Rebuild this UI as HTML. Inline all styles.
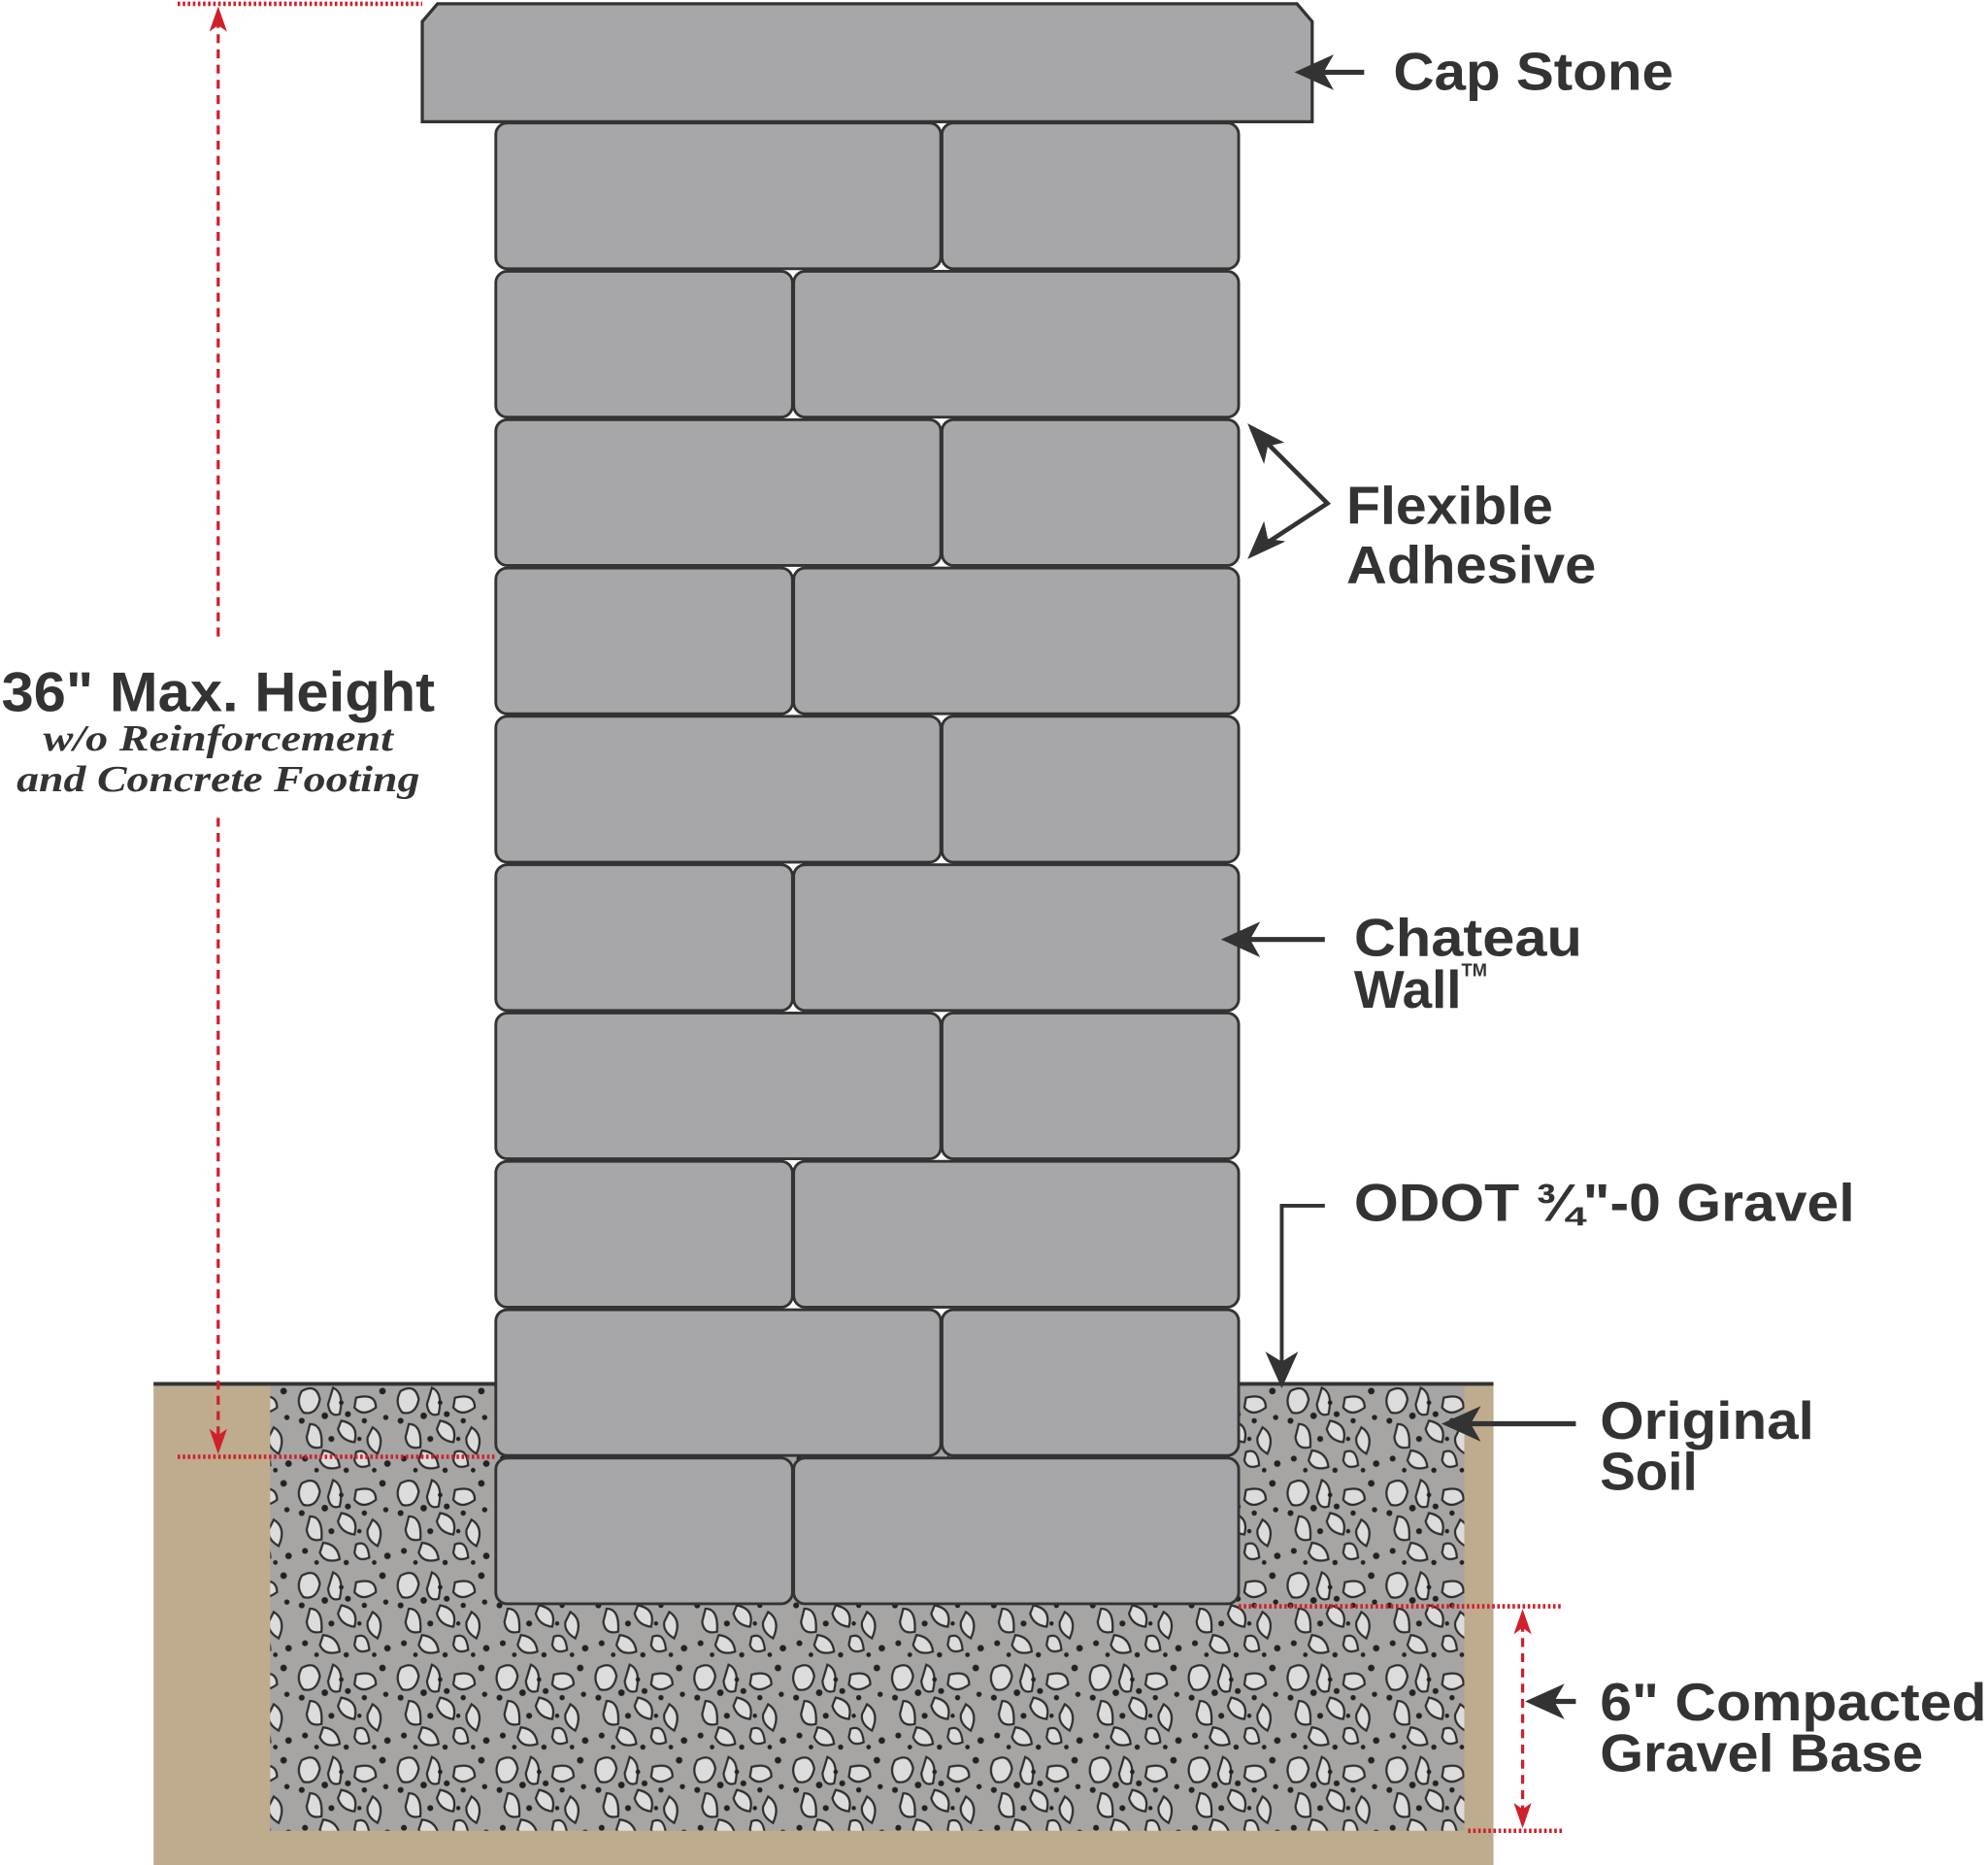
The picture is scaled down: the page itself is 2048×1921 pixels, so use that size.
<!DOCTYPE html>
<html><head><style>html,body{margin:0;padding:0;background:#fff}svg{display:block}</style></head>
<body>
<svg width="2048" height="1921" viewBox="0 0 1568 1471" xmlns="http://www.w3.org/2000/svg">
<defs>
<pattern id="gr" width="60" height="56" patternUnits="userSpaceOnUse" patternTransform="scale(1.3)">
<rect width="60" height="56" fill="#a6a5a3"/>
<g fill="#dcdcdc" stroke="#2e2e2e" stroke-width="1.3">
<path d="M3 4 q9 -5 11 5 q-2 10 -10 8 q-5 -6 -1 -13z"/>
<path d="M22 2 q7 3 4 16 q-6 2 -7 -6z"/>
<path d="M36 8 q12 -3 12 6 q-8 6 -13 0z"/>
<path d="M8 24 q8 0 7 14 q-8 2 -9 -6z"/>
<path d="M27 22 q11 2 8 13 q-8 -1 -10 -8z"/>
<path d="M46 26 q8 5 3 16 q-7 -4 -6 -10z"/>
<path d="M16 40 q9 1 10 10 q-9 3 -12 -4z"/>
<path d="M36 41 q7 -3 8 8 q-7 3 -9 -3z"/>
</g>
<g fill="#222">
<circle cx="17" cy="19" r="2"/><circle cx="31" cy="18" r="1.8"/><circle cx="52" cy="4" r="2"/>
<circle cx="3" cy="22" r="1.8"/><circle cx="21" cy="33" r="1.8"/><circle cx="41" cy="22" r="1.6"/>
<circle cx="55" cy="48" r="2"/><circle cx="5" cy="45" r="1.8"/><circle cx="30" cy="52" r="1.6"/>
<circle cx="54" cy="20" r="1.6"/><circle cx="12" cy="52" r="1.4"/><circle cx="27" cy="11" r="1.4"/>
<circle cx="47" cy="52" r="1.4"/><circle cx="38" cy="33" r="1.3"/>
</g>
</pattern>
</defs>

<rect x="121" y="1091" width="1057" height="380" fill="#bfab8e"/>
<rect x="213" y="1093" width="942" height="351" fill="url(#gr)"/>
<line x1="121" y1="1091.5" x2="1178" y2="1091.5" stroke="#333" stroke-width="3"/>

<path d="M345 3 L1023 3 L1035 17 L1035 96 L333 96 L333 17 Z" fill="#a7a7a9" stroke="#333" stroke-width="2.5"/>

<g fill="#a7a7a9" stroke="#333" stroke-width="2.2">
<rect x="391" y="97" width="351" height="115" rx="9"/><rect x="743" y="97" width="234" height="115" rx="9"/>
<rect x="391" y="214" width="234" height="115" rx="9"/><rect x="626" y="214" width="351" height="115" rx="9"/>
<rect x="391" y="331" width="351" height="115" rx="9"/><rect x="743" y="331" width="234" height="115" rx="9"/>
<rect x="391" y="448" width="234" height="115" rx="9"/><rect x="626" y="448" width="351" height="115" rx="9"/>
<rect x="391" y="565" width="351" height="115" rx="9"/><rect x="743" y="565" width="234" height="115" rx="9"/>
<rect x="391" y="682" width="234" height="115" rx="9"/><rect x="626" y="682" width="351" height="115" rx="9"/>
<rect x="391" y="799" width="351" height="115" rx="9"/><rect x="743" y="799" width="234" height="115" rx="9"/>
<rect x="391" y="916" width="234" height="115" rx="9"/><rect x="626" y="916" width="351" height="115" rx="9"/>
<rect x="391" y="1033" width="351" height="115" rx="9"/><rect x="743" y="1033" width="234" height="115" rx="9"/>
<rect x="391" y="1150" width="234" height="115" rx="9"/><rect x="626" y="1150" width="351" height="115" rx="9"/>
</g>

<g stroke="#d0202b" fill="none">
<line x1="140" y1="3" x2="333" y2="3" stroke-width="3.5" stroke-dasharray="2 2"/>
<line x1="140" y1="1149" x2="391" y2="1149" stroke-width="3.5" stroke-dasharray="2 2"/>
<line x1="977" y1="1267" x2="1232" y2="1267" stroke-width="3.5" stroke-dasharray="2 2"/>
<line x1="1158" y1="1444" x2="1232" y2="1444" stroke-width="3.5" stroke-dasharray="2 2"/>
<line x1="172" y1="15" x2="172" y2="505" stroke-width="2.5" stroke-dasharray="7 5"/>
<line x1="172" y1="645" x2="172" y2="1138" stroke-width="2.5" stroke-dasharray="7 5"/>
<line x1="1201" y1="1280" x2="1201" y2="1432" stroke-width="2.5" stroke-dasharray="7 5"/>
</g>
<g fill="#d0202b">
<path d="M172 5 L179 25 L172 20 L165 25 Z"/>
<path d="M172 1147 L179 1127 L172 1132 L165 1127 Z"/>
<path d="M1201 1269 L1208 1289 L1201 1284 L1194 1289 Z"/>
<path d="M1201 1442 L1208 1422 L1201 1427 L1194 1422 Z"/>
</g>

<g stroke="#333" fill="none">
<line x1="1076" y1="57" x2="1035" y2="57" stroke-width="4"/>
<polyline points="992,342 1047,397 992,433" stroke-width="3.5"/>
<line x1="1045" y1="741" x2="975" y2="741" stroke-width="4"/>
<polyline points="1045,951 1011,951 1011,1080" stroke-width="3"/>
<line x1="1243" y1="1123" x2="1150" y2="1123" stroke-width="4"/>
<line x1="1243" y1="1342" x2="1215" y2="1342" stroke-width="4"/>
</g>
<g fill="#333">
<path d="M1021 57 L1052 43 L1044 57 L1052 71 Z"/>
<path d="M984 334 L1013 349 L1000 352 L997 366 Z"/>
<path d="M984 441 L997 411 L1000 425 L1014 427 Z"/>
<path d="M963 741 L994 727 L986 741 L994 755 Z"/>
<path d="M1011 1095 L998 1066 L1011 1074 L1024 1066 Z"/>
<path d="M1137 1123 L1168 1109 L1160 1123 L1168 1137 Z"/>
<path d="M1203 1342 L1234 1328 L1226 1342 L1234 1356 Z"/>
</g>

<g font-family="'Liberation Sans',Arial,sans-serif" font-weight="bold" fill="#333" font-size="42">
<text x="1099" y="71" textLength="221" lengthAdjust="spacingAndGlyphs">Cap Stone</text>
<text x="1062" y="413" textLength="163" lengthAdjust="spacingAndGlyphs">Flexible</text>
<text x="1062" y="460" textLength="197" lengthAdjust="spacingAndGlyphs">Adhesive</text>
<text x="1068" y="754" textLength="180" lengthAdjust="spacingAndGlyphs">Chateau</text>
<text x="1068" y="795">Wall<tspan font-size="14" dy="-25">TM</tspan></text>
<text x="1068" y="963" textLength="395" lengthAdjust="spacingAndGlyphs">ODOT ¾"-0 Gravel</text>
<text x="1262" y="1135" textLength="169" lengthAdjust="spacingAndGlyphs">Original</text>
<text x="1262" y="1175">Soil</text>
<text x="1262" y="1357" textLength="305" lengthAdjust="spacingAndGlyphs">6" Compacted</text>
<text x="1262" y="1397" textLength="255" lengthAdjust="spacingAndGlyphs">Gravel Base</text>
<text x="172" y="561" text-anchor="middle" font-size="44" textLength="342" lengthAdjust="spacingAndGlyphs">36" Max. Height</text>
</g>
<g font-family="'Liberation Serif',serif" font-weight="bold" font-style="italic" fill="#333" font-size="29" text-anchor="middle">
<text x="172" y="592" textLength="276" lengthAdjust="spacingAndGlyphs">w/o Reinforcement</text>
<text x="172" y="624" textLength="318" lengthAdjust="spacingAndGlyphs">and Concrete Footing</text>
</g>
</svg>
</body></html>
